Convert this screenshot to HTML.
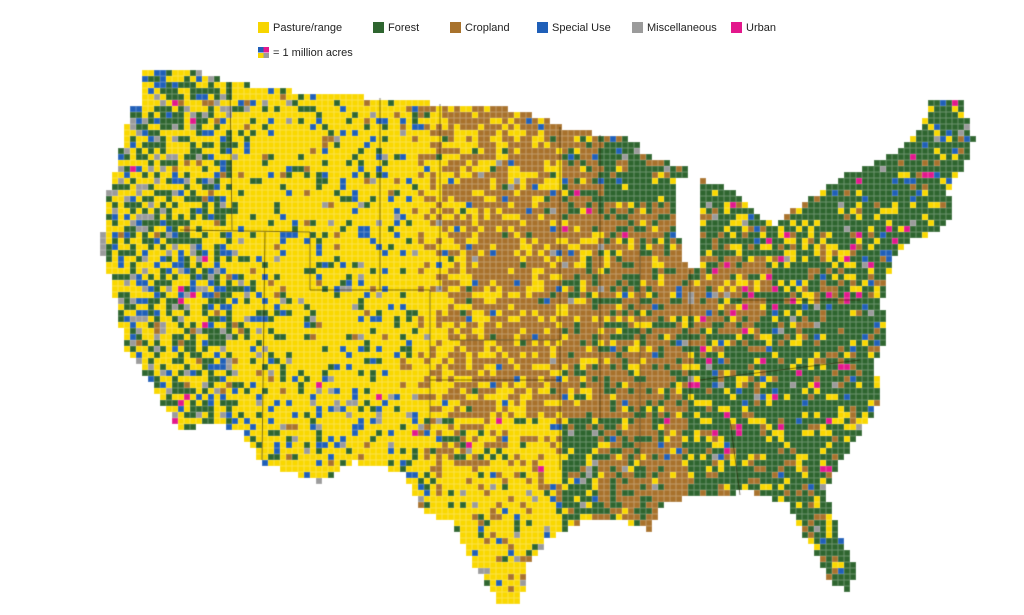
<!DOCTYPE html>
<html><head><meta charset="utf-8"><style>
body{margin:0;background:#fff;width:1024px;height:615px;overflow:hidden;font-family:"Liberation Sans",sans-serif;}
#lg{position:absolute;left:0;top:0;font-size:11px;color:#222;z-index:2}
.it{position:absolute;top:21px;height:14px;line-height:14px;white-space:nowrap}
.sw{display:inline-block;width:11px;height:11px;vertical-align:-2px;margin-right:4px}
canvas{position:absolute;left:0;top:0}
</style></head><body>
<canvas id="c" width="1024" height="615"></canvas>
<div id="lg">
<div class="it" style="left:258px"><span class="sw" style="background:#f7d500"></span>Pasture/range</div>
<div class="it" style="left:373px"><span class="sw" style="background:#2e652f"></span>Forest</div>
<div class="it" style="left:450px"><span class="sw" style="background:#a8722c"></span>Cropland</div>
<div class="it" style="left:537px"><span class="sw" style="background:#1f5fb8"></span>Special Use</div>
<div class="it" style="left:632px"><span class="sw" style="background:#9b9b9b"></span>Miscellaneous</div>
<div class="it" style="left:731px"><span class="sw" style="background:#e3178c"></span>Urban</div>
<div class="it" style="left:258px;top:46px"><span class="sw" style="background:linear-gradient(to right,#1f5fb8 50%,#e3178c 50%) top/100% 50% no-repeat,linear-gradient(to right,#f7d500 50%,#9b9b9b 50%) bottom/100% 50% no-repeat"></span>= 1 million acres</div>
</div>
<script>
var P=[[145,72],[200,72],[230,82],[300,92],[380,98],[440,104],[520,110],[545,120],[560,127],[600,135],[635,140],[642,152],[660,160],[690,170],[705,180],[730,188],[745,200],[760,215],[775,225],[800,205],[830,185],[850,172],[872,165],[905,145],[925,120],[930,100],[960,100],[975,140],[962,170],[948,190],[952,215],[935,232],[905,242],[892,262],[882,300],[887,340],[874,362],[882,400],[862,430],[842,460],[825,490],[838,530],[856,570],[848,592],[830,582],[805,535],[790,505],[752,492],[705,495],[665,502],[650,530],[622,522],[580,522],[545,542],[525,570],[522,607],[503,607],[472,562],[452,522],[424,512],[402,472],[352,462],[322,482],[290,472],[262,462],[242,432],[212,422],[190,428],[178,432],[152,382],[126,350],[116,300],[101,250],[106,200],[121,150],[131,110],[145,102]];
var L=[[678,178],[702,172],[703,262],[688,272],[676,230]];
function inP(x,y,p){var c=false;for(var i=0,j=p.length-1;i<p.length;j=i++){var a=p[i],b=p[j];if((a[1]>y)!=(b[1]>y)&&x<(b[0]-a[0])*(y-a[1])/(b[1]-a[1])+a[0])c=!c;}return c;}
var s=987654321;function r(){s^=s<<13;s^=s>>>17;s^=s<<5;return ((s>>>0)%100000)/100000;}
var C={y:"#f9d800",f:"#2e652f",c:"#a8722c",s:"#1f5fb8",m:"#9b9b9b",u:"#e3178c"};
function pick(w){var t=r(),a=0;for(var k in w){a+=w[k];if(t<a)return C[k];}return C.y;}
function dist(x,y){
 if(x<230)return{y:.45,f:.3,s:.12,m:.09,c:.03,u:.01};
 if(x<420)return y>380?{y:.72,f:.09,s:.12,c:.03,m:.03,u:.01}:{y:.76,f:.1,s:.08,c:.03,m:.03};
 if(x<560){if(y>480)return{y:.78,c:.08,f:.08,s:.03,m:.02,u:.01};if(y>420)return{y:.6,c:.26,f:.08,s:.03,m:.02,u:.01};if(x<450)return{y:.62,c:.32,s:.03,f:.02,m:.01};return{c:.62,y:.32,s:.03,f:.02,m:.01};}
 if(x<600)return y>420?{f:.6,y:.18,c:.16,s:.03,u:.01,m:.02}:{c:.62,f:.16,y:.16,s:.03,u:.01,m:.02};
 if(x<690)return y<200?{f:.7,c:.15,y:.08,s:.05,u:.01,m:.01}:{c:.6,f:.26,y:.1,s:.02,u:.01,m:.01};
 if(x<765&&y>255&&y<335)return{c:.55,f:.25,y:.12,u:.04,s:.02,m:.02};
 if(y<200&&x>800)return{f:.8,y:.07,c:.04,s:.04,u:.03,m:.02};
 return{f:.66,y:.15,c:.11,u:.03,s:.03,m:.02};
}
var g=document.getElementById('c').getContext('2d');
for(var y=70;y<610;y+=6)for(var x=100;x<980;x+=6){var cx=x+3,cy=y+3;if(!inP(cx,cy,P)||inP(cx,cy,L))continue;
 g.fillStyle=pick(dist(cx,cy));g.fillRect(x,y,6,6);g.strokeStyle="rgba(255,255,255,0.3)";g.lineWidth=0.5;g.strokeRect(x+.25,y+.25,5.5,5.5);}
g.strokeStyle="rgba(40,30,0,0.7)";g.lineWidth=0.8;
[[[230,82],[232,230]],[[180,230],[310,232],[310,290]],[[265,232],[262,460]],[[380,98],[380,290]],[[310,290],[430,290],[430,430]],[[440,104],[440,290]],[[430,380],[560,380]],[[560,127],[560,470]],[[450,340],[560,340]],[[600,135],[600,420]],[[640,250],[640,470]],[[690,270],[690,400]],[[700,380],[860,360]],[[735,300],[860,300]],[[730,420],[740,495]]].forEach(function(l){g.beginPath();g.moveTo(l[0][0],l[0][1]);for(var i=1;i<l.length;i++)g.lineTo(l[i][0],l[i][1]);g.stroke();});
</script>
</body></html>
